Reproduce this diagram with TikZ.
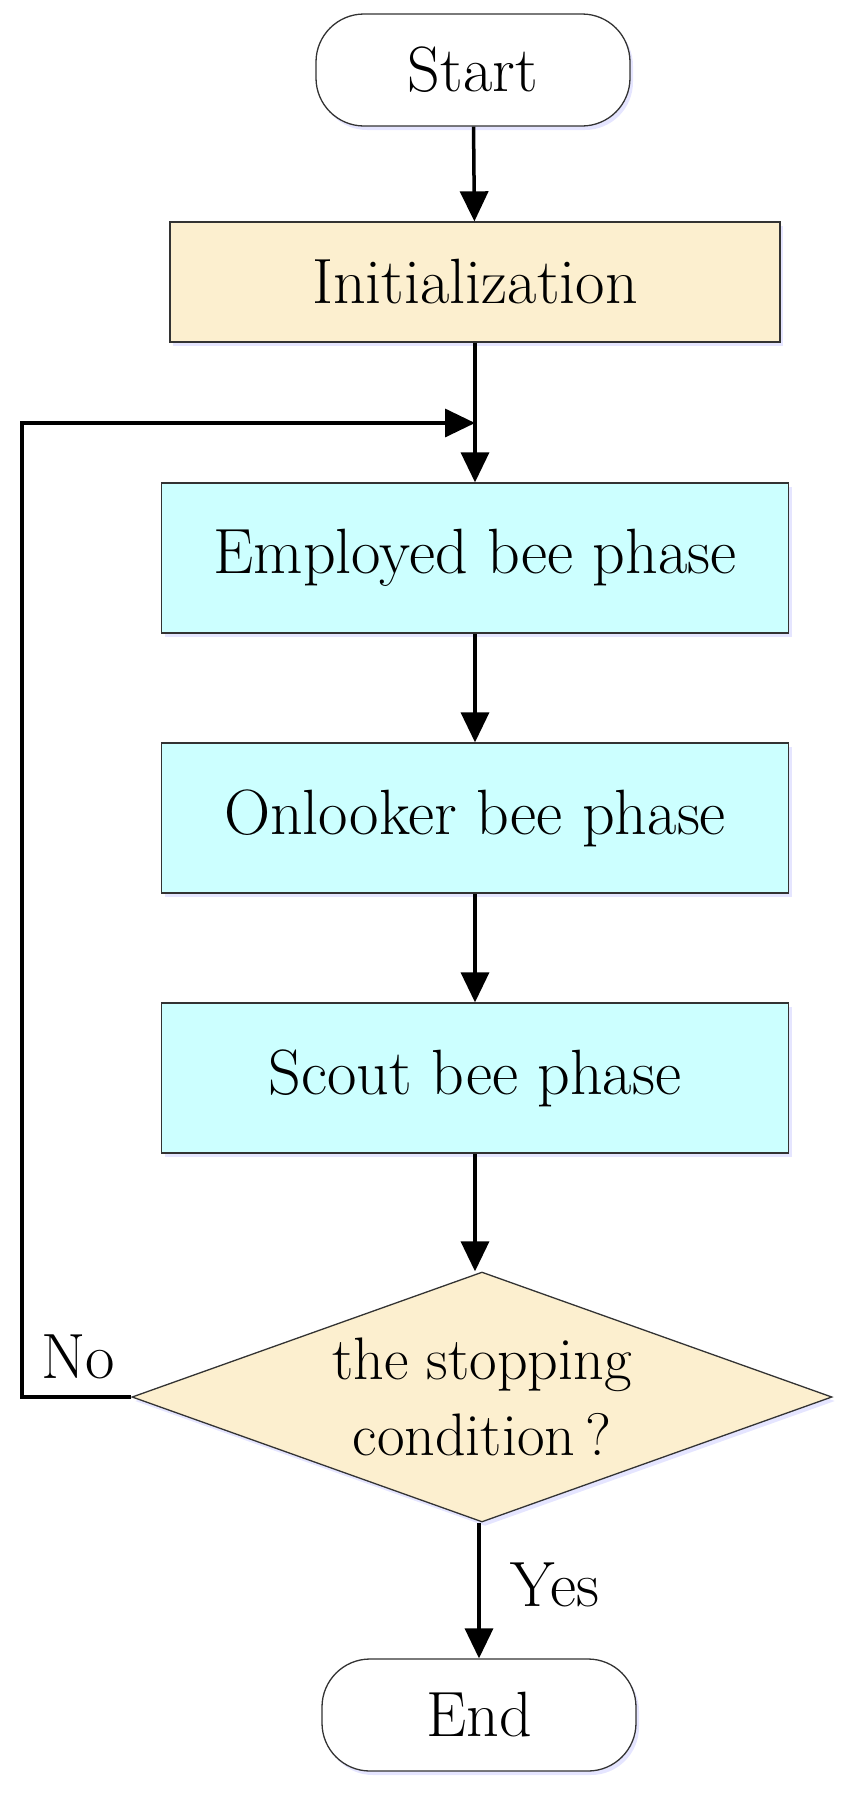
\documentclass[tikz,border=0pt]{standalone}
\usetikzlibrary{arrows.meta,shapes.geometric,shadows}
\definecolor{cy}{HTML}{CCFFFF}
\definecolor{yl}{HTML}{FCEFCF}
\begin{document}
\begin{tikzpicture}[x=1pt,y=-1pt,
  every node/.style={font=\fontsize{64}{76}\selectfont},
  sh/.style={drop shadow={shadow xshift=3pt,shadow yshift=-4pt,fill=blue!40,opacity=0.25}},
  pill/.style={draw=black!80,line width=1.3pt,rounded corners=48pt,fill=white,sh,minimum width=314pt,minimum height=112pt},
  boxy/.style={draw=black!80,line width=1.3pt,fill=yl,sh,minimum width=610pt,minimum height=120pt},
  boxc/.style={draw=black!80,line width=1.3pt,fill=cy,sh,minimum width=627pt,minimum height=150pt},
  cond/.style={draw=black!80,line width=1.3pt,fill=yl,sh,diamond,aspect=2.8,inner sep=0pt,minimum width=700pt,minimum height=250pt,align=center,font=\fontsize{60}{76}\selectfont},
  arr/.style={-{Triangle[length=30pt,width=28pt]},line width=3.5pt}]
\useasboundingbox (0,0) rectangle (852,1807);
\node[pill] (start) at (473,70) {Start};
\node[boxy] (init) at (475,282) {Initialization};
\node[boxc] (emp) at (475,558) {Employed bee phase};
\node[boxc] (onl) at (475,818) {Onlooker bee phase};
\node[boxc] (sco) at (475,1078) {Scout bee phase};
\node[cond] (stop) at (482,1397) {the stopping\\condition\,?};
\node[pill] (end) at (479,1715) {End};
\coordinate (j) at (init.south |- 0,423);
\coordinate (l1) at (22,1397);
\coordinate (l2) at (22,423);
\draw[arr] (start) -- (init);
\draw[arr] (init.south) -- (emp.north);
\draw[arr] (stop.west) -- (l1) -- (l2) -- (j);
\draw[arr] (emp) -- (onl);
\draw[arr] (onl) -- (sco);
\draw[arr] (sco.south) -- (stop.north -| sco.south);
\draw[arr] (stop.south -| end.north) -- (end.north);
\node at (78,1357) {No};
\node at (555,1585) {Yes};
\end{tikzpicture}
\end{document}
